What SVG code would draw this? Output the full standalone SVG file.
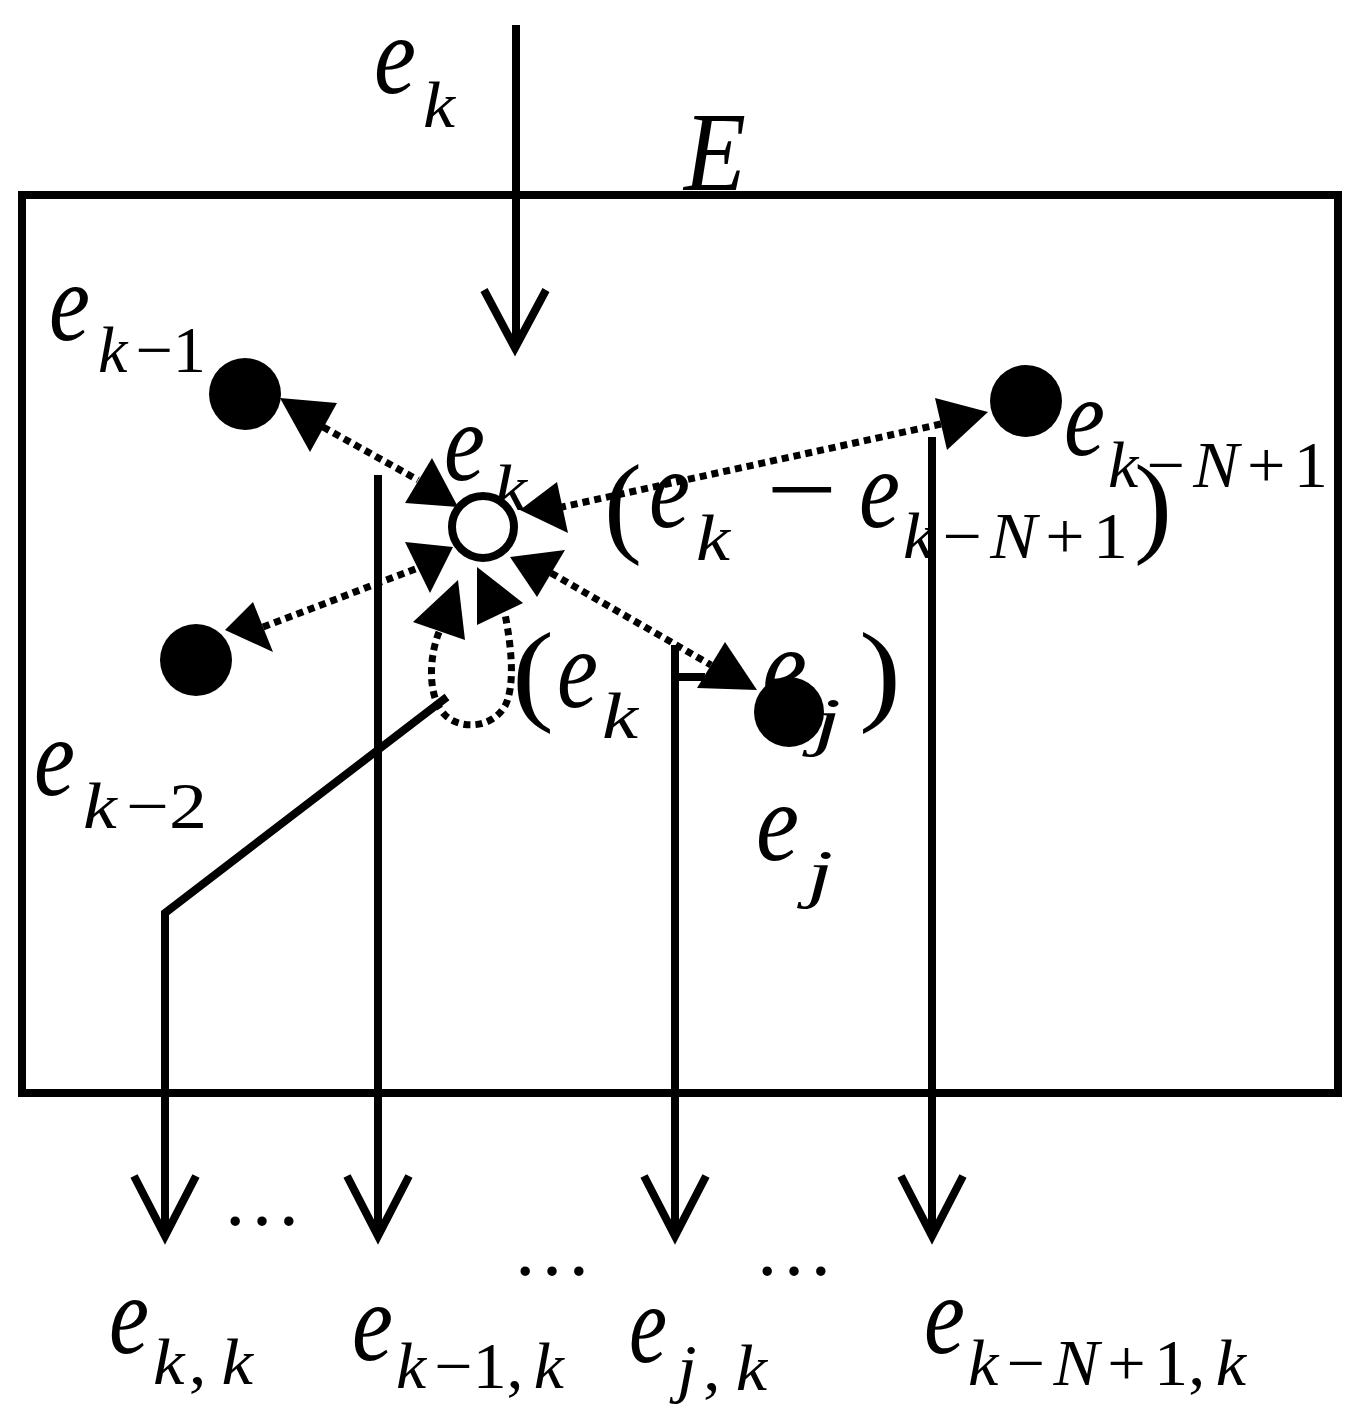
<svg xmlns="http://www.w3.org/2000/svg" width="1370" height="1424" viewBox="0 0 1370 1424">
<style>
text{font-family:"Liberation Serif","Times New Roman",Times,serif;fill:#000}
.v{font-style:italic;font-size:112px}
.s{font-style:italic;font-size:66px}
.n{font-style:normal}
.p{font-style:normal;font-size:112px}
.dots{font-style:normal;font-size:80px}
.solid{stroke:#000;stroke-width:8;fill:none}
.dot{stroke:#000;stroke-width:7;stroke-dasharray:7 5;fill:none}
.head{fill:#000;stroke:none}
.node{fill:#000}
</style>
<rect x="22" y="195" width="1316" height="898" class="solid"/>
<g id="labels">
<text class="v" x="374" y="93" textLength="42" lengthAdjust="spacingAndGlyphs">e</text>
<text class="s" x="423" y="127" textLength="32" lengthAdjust="spacingAndGlyphs">k</text>
<text class="v" x="684" y="190" font-size="108" textLength="62" lengthAdjust="spacingAndGlyphs">E</text>

<text class="v" x="49" y="340" textLength="41" lengthAdjust="spacingAndGlyphs">e</text>
<text class="s" x="98" y="372" textLength="108" lengthAdjust="spacingAndGlyphs">k<tspan class="n" dx="8">−1</tspan></text>

<text class="v" x="444" y="480" textLength="41" lengthAdjust="spacingAndGlyphs">e</text>
<text class="s" x="494" y="510" textLength="33" lengthAdjust="spacingAndGlyphs">k</text>

<text class="p" x="604" y="542" textLength="38" lengthAdjust="spacingAndGlyphs">(</text>
<text class="v" x="649" y="527" textLength="41" lengthAdjust="spacingAndGlyphs">e</text>
<text class="s" x="696" y="560" textLength="34" lengthAdjust="spacingAndGlyphs">k</text>
<text class="p" x="766" y="527" textLength="71" lengthAdjust="spacingAndGlyphs">−</text>
<text class="v" x="859" y="527" textLength="41" lengthAdjust="spacingAndGlyphs">e</text>
<text class="s" x="903" y="558" textLength="225" lengthAdjust="spacingAndGlyphs">k<tspan class="n" dx="8">−</tspan><tspan dx="8">N</tspan><tspan class="n" dx="8">+</tspan><tspan class="n" dx="8">1</tspan></text>
<text class="p" x="1134" y="542" textLength="38" lengthAdjust="spacingAndGlyphs">)</text>

<text class="v" x="1064" y="455" textLength="41" lengthAdjust="spacingAndGlyphs">e</text>
<text class="s" x="1108" y="487" textLength="220" lengthAdjust="spacingAndGlyphs">k<tspan class="n" dx="8">−</tspan><tspan dx="8">N</tspan><tspan class="n" dx="8">+</tspan><tspan class="n" dx="8">1</tspan></text>

<text class="p" x="512" y="710" font-size="126" textLength="42" lengthAdjust="spacingAndGlyphs">(</text>
<text class="v" x="557" y="707" textLength="41" lengthAdjust="spacingAndGlyphs">e</text>
<text class="s" x="602" y="738" textLength="36" lengthAdjust="spacingAndGlyphs">k</text>
<text class="v" x="762" y="705" textLength="45" lengthAdjust="spacingAndGlyphs">e</text>
<text class="s" x="813" y="743" textLength="28" lengthAdjust="spacingAndGlyphs">j</text>
<text class="p" x="859" y="710" font-size="126" textLength="42" lengthAdjust="spacingAndGlyphs">)</text>

<text class="v" x="34" y="795" textLength="41" lengthAdjust="spacingAndGlyphs">e</text>
<text class="s" x="83" y="828" textLength="124" lengthAdjust="spacingAndGlyphs">k<tspan class="n" dx="8">−2</tspan></text>

<text class="v" x="756" y="860" textLength="43" lengthAdjust="spacingAndGlyphs">e</text>
<text class="s" x="807" y="895" textLength="26" lengthAdjust="spacingAndGlyphs">j</text>

<text x="222" y="1225" class="dots" textLength="80" lengthAdjust="spacingAndGlyphs">…</text>
<text x="512" y="1275" class="dots" textLength="80" lengthAdjust="spacingAndGlyphs">…</text>
<text x="754" y="1275" class="dots" textLength="80" lengthAdjust="spacingAndGlyphs">…</text>

<text class="v" x="109" y="1353" textLength="40" lengthAdjust="spacingAndGlyphs">e</text>
<text class="s" x="153" y="1384" textLength="100" lengthAdjust="spacingAndGlyphs">k<tspan class="n" dx="4">,</tspan><tspan dx="14">k</tspan></text>

<text class="v" x="352" y="1360" textLength="41" lengthAdjust="spacingAndGlyphs">e</text>
<text class="s" x="396" y="1388" textLength="168" lengthAdjust="spacingAndGlyphs">k<tspan class="n" dx="8">−1,</tspan><tspan dx="10">k</tspan></text>

<text class="v" x="629" y="1362" textLength="38" lengthAdjust="spacingAndGlyphs">e</text>
<text class="s" x="677" y="1390" textLength="90" lengthAdjust="spacingAndGlyphs">j<tspan class="n" dx="6">,</tspan><tspan dx="14">k</tspan></text>

<text class="v" x="924" y="1353" textLength="41" lengthAdjust="spacingAndGlyphs">e</text>
<text class="s" x="968" y="1385" textLength="278" lengthAdjust="spacingAndGlyphs">k<tspan class="n" dx="8">−</tspan><tspan dx="8">N</tspan><tspan class="n" dx="8">+</tspan><tspan class="n" dx="8">1,</tspan><tspan dx="10">k</tspan></text>
</g>
<g id="connectors">
<path class="solid" d="M516,25 L516,346"/>
<path class="solid" d="M484,290 L515,348 L546,290"/>
<path class="solid" d="M378,475 L378,1232"/>
<path class="solid" d="M675,645 L675,1232"/>
<path class="solid" d="M675,677 L705,677" stroke-width="5"/>
<path class="solid" d="M932,437 L932,1232"/>
<path class="solid" d="M447,697 L165,913 L165,1232"/>
<path class="solid" d="M134,1176 L165,1236 L196,1176"/>
<path class="solid" d="M347,1176 L378,1236 L409,1176"/>
<path class="solid" d="M644,1176 L675,1236 L706,1176"/>
<path class="solid" d="M901,1176 L932,1236 L963,1176"/>
<path class="dot" d="M323,427 L418,480"/>
<path class="dot" d="M941,424 L562,507"/>
<path class="dot" d="M263,627 L418,568"/>
<path class="dot" d="M551,573 L711,665"/>
<path class="dot" d="M439,632 C428,660 428,700 446,716 C462,730 492,728 505,706 C515,686 512,650 505,614"/>
<polygon class="head" points="280,398 337,403 310,452"/>
<polygon class="head" points="405,503 432,458 458,507"/>
<polygon class="head" points="935,398 988,412 947,450"/>
<polygon class="head" points="557,482 568,533 520,510"/>
<polygon class="head" points="225,630 253,602 273,652"/>
<polygon class="head" points="405,542 430,593 453,547"/>
<polygon class="head" points="697,688 725,642 757,690"/>
<polygon class="head" points="510,557 565,550 537,597"/>
<polygon class="head" points="413,622 458,580 465,640"/>
<polygon class="head" points="477,567 477,625 523,603"/>
</g>
<g id="node-ek"><circle cx="483" cy="527" r="31" fill="#fff" stroke="#000" stroke-width="8"/></g>
<g id="node-ek1"><circle cx="245" cy="394" r="36" class="node"/></g>
<g id="node-ek2"><circle cx="196" cy="660" r="36" class="node"/></g>
<g id="node-ekN1"><circle cx="1026" cy="401" r="36" class="node"/></g>
<g id="node-ej"><circle cx="789" cy="712" r="35" class="node"/></g>
</svg>
